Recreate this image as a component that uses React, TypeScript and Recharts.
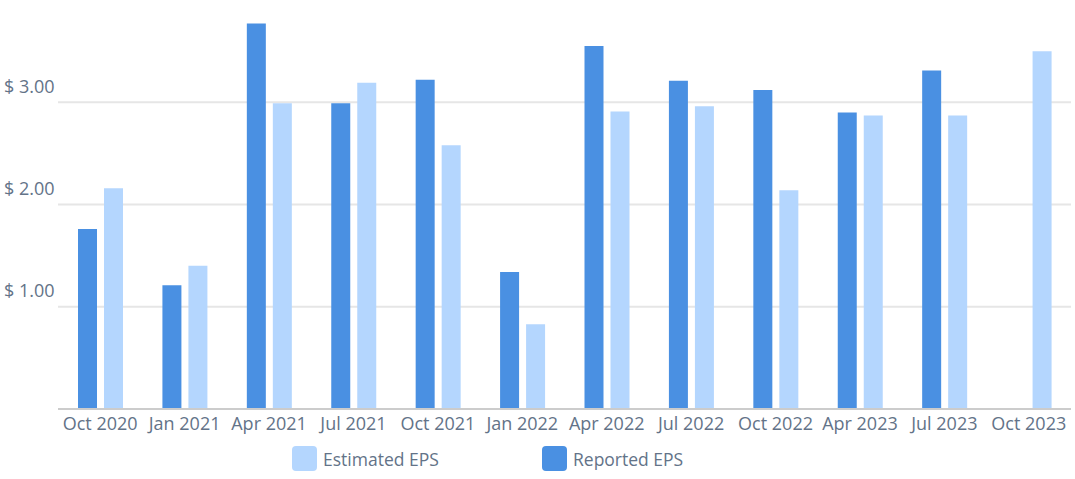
import { BarChart, Bar, XAxis, YAxis, CartesianGrid, Legend } from "recharts";

const QUARTERS = [
  "Oct 2020",
  "Jan 2021",
  "Apr 2021",
  "Jul 2021",
  "Oct 2021",
  "Jan 2022",
  "Apr 2022",
  "Jul 2022",
  "Oct 2022",
  "Apr 2023",
  "Jul 2023",
  "Oct 2023",
];

const REPORTED_EPS: (number | null)[] = [
  1.76, 1.21, 3.77, 2.99, 3.22, 1.34, 3.55, 3.21, 3.12, 2.9, 3.31, null,
];

const ESTIMATED_EPS = [
  2.16, 1.4, 2.99, 3.19, 2.58, 0.83, 2.91, 2.96, 2.14, 2.87, 2.87, 3.5,
];

const Y_TICKS = [1, 2, 3];

const DARK = "#4a90e2";
const LIGHT = "#b4d6fe";
const TEXT = "#637388";
const FONT = "'Open Sans', 'Noto Sans', sans-serif";

const data = QUARTERS.map((q, i) => ({
  quarter: q,
  reported: REPORTED_EPS[i],
  estimated: ESTIMATED_EPS[i],
}));

function YTick({ y, payload }: any) {
  return (
    <text x={4} y={y - 9.5} textAnchor="start" fill={TEXT} fontSize={18} fontFamily={FONT}>
      {`$ ${Number(payload.value).toFixed(2)}`}
    </text>
  );
}

const LEGEND_ITEMS = [
  { label: "Estimated EPS", color: LIGHT, left: 292 },
  { label: "Reported EPS", color: DARK, left: 542 },
];

function EpsLegend() {
  return (
    <div style={{ position: "relative", height: 35, fontFamily: FONT }}>
      {LEGEND_ITEMS.map((item) => (
        <div
          key={item.label}
          style={{
            position: "absolute",
            left: item.left,
            top: 2,
            display: "flex",
            alignItems: "center",
          }}
        >
          <span
            style={{
              width: 25,
              height: 25,
              borderRadius: 4,
              background: item.color,
              display: "inline-block",
            }}
          />
          <span style={{ marginLeft: 6, fontSize: 17.5, color: TEXT }}>{item.label}</span>
        </div>
      ))}
    </div>
  );
}

export default function App() {
  return (
    <div style={{ position: "absolute", left: 0, top: 0, background: "#fff" }}>
      <BarChart
        width={1075}
        height={479}
        data={data}
        margin={{ top: 0, right: 4, bottom: 0, left: 0 }}
        barSize={19}
        barGap={7}
      >
        <CartesianGrid
          vertical={false}
          horizontalValues={Y_TICKS}
          stroke="#e6e6e6"
          strokeWidth={2}
        />
        <XAxis
          dataKey="quarter"
          height={35}
          tickLine={false}
          tickMargin={2}
          axisLine={{ stroke: "#cccccc", strokeWidth: 2 }}
          tick={{ fill: TEXT, fontSize: 18, fontFamily: FONT }}
          interval={0}
        />
        <YAxis
          width={58}
          domain={[0, 4]}
          ticks={Y_TICKS}
          axisLine={false}
          tickLine={false}
          tick={<YTick />}
        />
        <Legend verticalAlign="bottom" height={35} content={<EpsLegend />} />
        <Bar dataKey="reported" fill={DARK} isAnimationActive={false} />
        <Bar dataKey="estimated" fill={LIGHT} isAnimationActive={false} />
      </BarChart>
    </div>
  );
}
